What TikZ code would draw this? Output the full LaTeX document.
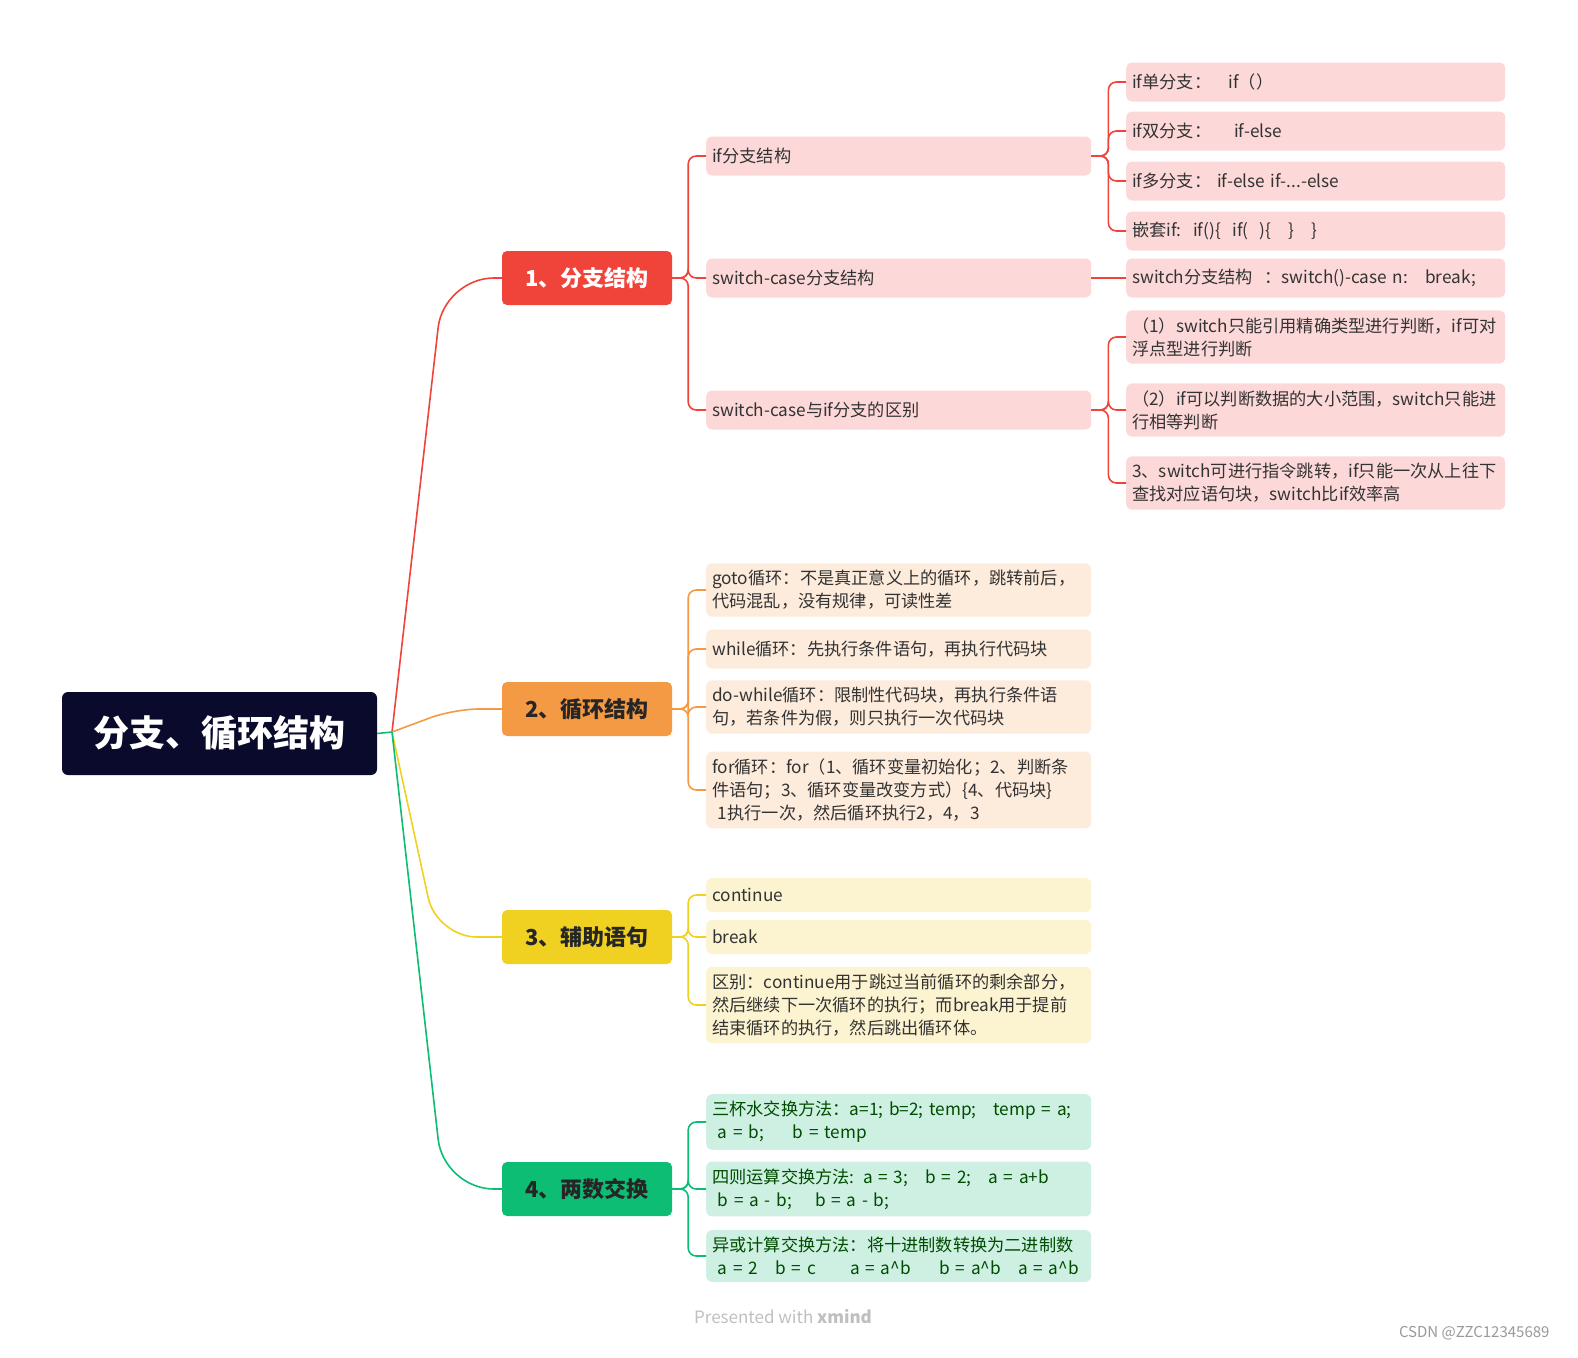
\documentclass[tikz,border=0pt]{standalone}
\usepackage{fontspec}
\setmainfont{Noto Sans CJK SC}
\usepackage{tikz}
\usetikzlibrary{positioning}
\definecolor{rootc}{HTML}{0A0A2C}
\definecolor{redc}{HTML}{F0443A}
\definecolor{orgc}{HTML}{F49A45}
\definecolor{yelc}{HTML}{F0D020}
\definecolor{grnc}{HTML}{0DBD74}
\definecolor{redl}{HTML}{FDD8D8}
\definecolor{orgl}{HTML}{FDEBDC}
\definecolor{yell}{HTML}{FCF3D0}
\definecolor{grnl}{HTML}{CDF0E2}
\tikzset{
  topic/.style={rounded corners=5pt, minimum width=170pt, minimum height=54pt,
    font=\fontsize{22}{25}\selectfont\bfseries},
  leaf/.style={fill=#1, rounded corners=6pt, anchor=west, align=left,
    text width=373pt, inner xsep=6pt, inner ysep=7pt, minimum height=39pt,
    text=black!80, font=\fontsize{17.2}{23}\selectfont},
  leafR/.style={leaf=#1, text width=367pt},
  link/.style={line width=1.6pt, rounded corners=8pt},
}
\begin{document}
\begin{tikzpicture}[x=1pt,y=-1pt]
\useasboundingbox (0,0) rectangle (1578,1357);
% root and main topics
\node[fill=rootc, rounded corners=6pt, minimum width=315pt, minimum height=83pt,
  text=white, font=\fontsize{36}{40}\selectfont\bfseries] (root) at (219.5,733.5) {分支、循环结构};
\coordinate (hub) at (392,732);
\node[topic, fill=redc, text=white] (t1) at (587,278) {1、分支结构};
\node[topic, fill=orgc, text=black!85] (t2) at (587,709) {2、循环结构};
\node[topic, fill=yelc, text=black!85] (t3) at (587,937) {3、辅助语句};
\node[topic, fill=grnc, text=black!85] (t4) at (587,1189) {4、两数交换};
\draw[grnc, line width=1.6pt] (root.east) -- (hub);
\draw[redc, line width=1.6pt, rounded corners=50pt] (hub) -- ([xshift=-58pt]t1.west) -- (t1.west);
\draw[orgc, line width=1.6pt, rounded corners=25pt] (hub) -- ([xshift=-48pt]t2.west) -- (t2.west);
\draw[yelc, line width=1.6pt, rounded corners=40pt] (hub) -- ([xshift=-65pt]t3.west) -- (t3.west);
\draw[grnc, line width=1.6pt, rounded corners=50pt] (hub) -- ([xshift=-58pt]t4.west) -- (t4.west);
% 1 branch
\node[leaf=redl] (a1) at (706,156) {if分支结构};
\node[leaf=redl] (a2) at (706,278) {switch-case分支结构};
\node[leaf=redl] (a3) at (706,410) {switch-case与if分支的区别};
\node[leafR=redl] (c1) at (1126,82) {if单分支：\quad if（）};
\node[leafR=redl] (c2) at (1126,131) {if双分支：\quad\ if-else};
\node[leafR=redl] (c3) at (1126,181) {if多分支：\ if-else if-...-else};
\node[leafR=redl] (c4) at (1126,231) {嵌套if:\ \ if()\{\ \ if(\ \ )\{\ \ \ \}\ \ \ \}};
\node[leafR=redl] (c5) at (1126,278) {switch分支结构\ \ ：switch()-case n:\ \ \ break;};
\node[leafR=redl] (c6) at (1126,337) {（1）switch只能引用精确类型进行判断，if可对\\浮点型进行判断};
\node[leafR=redl] (c7) at (1126,410) {（2）if可以判断数据的大小范围，switch只能进\\行相等判断};
\node[leafR=redl] (c8) at (1126,483) {3、switch可进行指令跳转，if只能一次从上往下\\查找对应语句块，switch比if效率高};
\foreach \n in {a1,a2,a3} \draw[link, redc] (t1.east) -- ++(16,0) |- (\n.west);
\foreach \n in {c1,c2,c3,c4} \draw[link, redc] (a1.east) -- ++(17,0) |- (\n.west);
\draw[link, redc] (a2.east) -- (c5.west);
\foreach \n in {c6,c7,c8} \draw[link, redc] (a3.east) -- ++(17,0) |- (\n.west);
% 2 branch
\node[leaf=orgl] (b1) at (706,590) {goto循环：不是真正意义上的循环，跳转前后，\\代码混乱，没有规律，可读性差};
\node[leaf=orgl] (b2) at (706,649) {while循环：先执行条件语句，再执行代码块};
\node[leaf=orgl] (b3) at (706,707) {do-while循环：限制性代码块，再执行条件语\\句，若条件为假，则只执行一次代码块};
\node[leaf=orgl] (b4) at (706,790) {for循环：for（1、循环变量初始化；2、判断条\\件语句；3、循环变量改变方式）\{4、代码块\}\\\ 1执行一次，然后循环执行2，4，3};
\foreach \n in {b1,b2,b3,b4} \draw[link, orgc] (t2.east) -- ++(16,0) |- (\n.west);
% 3 branch
\node[leaf=yell, minimum height=34pt, inner ysep=5pt] (d1) at (706,895) {continue};
\node[leaf=yell, minimum height=34pt, inner ysep=5pt] (d2) at (706,937) {break};
\node[leaf=yell] (d3) at (706,1005) {区别：continue用于跳过当前循环的剩余部分，\\然后继续下一次循环的执行；而break用于提前\\结束循环的执行，然后跳出循环体。};
\foreach \n in {d1,d2,d3} \draw[link, yelc] (t3.east) -- ++(16,0) |- (\n.west);
% 4 branch
\node[leaf=grnl, text=green!30!black] (e1) at (706,1122) {三杯水交换方法：a=1;\ b=2;\ temp;\ \ \ temp = a;\\\ a = b;\ \ \ \ \ b = temp};
\node[leaf=grnl, text=green!30!black] (e2) at (706,1189) {四则运算交换方法: a = 3;\ \ \ b = 2;\ \ \ a = a+b\\\ b = a - b;\ \ \ \ b = a - b;};
\node[leaf=grnl, text=green!30!black] (e3) at (706,1256) {异或计算交换方法：将十进制数转换为二进制数\\\ a = 2\ \ \ b = c\ \ \ \ \ \ a = a\textasciicircum b\ \ \ \ \ b = a\textasciicircum b\ \ \ a = a\textasciicircum b};
\foreach \n in {e1,e2,e3} \draw[link, grnc] (t4.east) -- ++(16,0) |- (\n.west);
% footer
\node[text=black!25, font=\fontsize{17}{20}\selectfont] (foot) at (783,1317) {Presented with \textbf{xmind}};
\node[text=black!40, font=\fontsize{15}{18}\selectfont, anchor=east] (csdn) at (1553,1333) {CSDN @ZZC12345689};
\end{tikzpicture}
\end{document}
